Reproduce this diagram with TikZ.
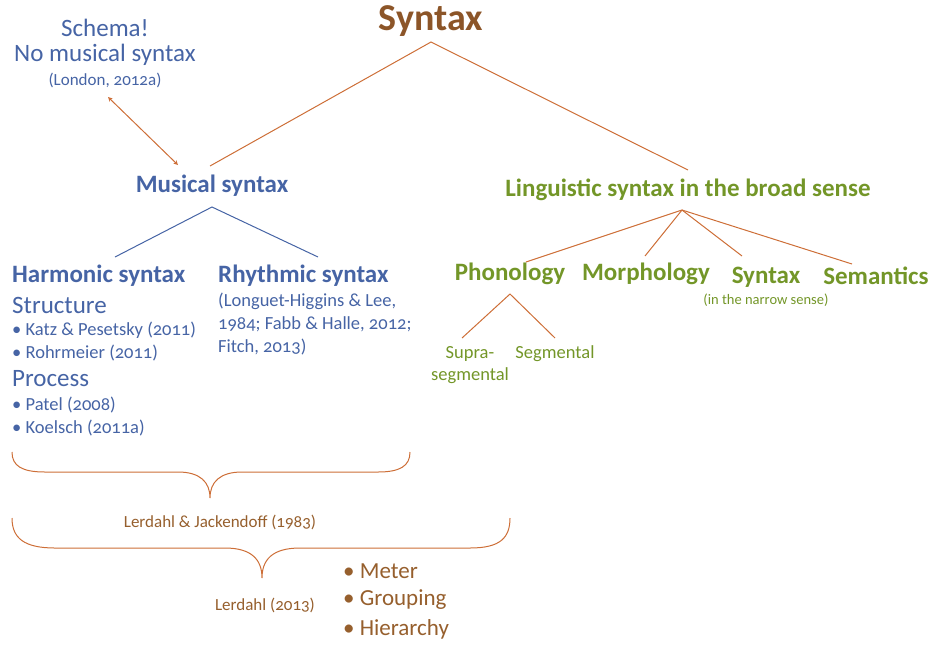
\documentclass[tikz,border=0pt]{standalone}
\usepackage{fontspec}
\setmainfont{Carlito}[Numbers=OldStyle]
\definecolor{ttl}{RGB}{140,85,40}
\definecolor{blu}{RGB}{70,100,165}
\definecolor{grn}{RGB}{115,150,40}
\definecolor{ln}{RGB}{205,110,55}
\definecolor{brn}{RGB}{150,95,45}
\begin{document}
\begin{tikzpicture}[x=1pt,y=-1pt,
  lk/.style={draw=ln,line width=1pt},
  bl/.style={text=blu,inner sep=0pt},
  gr/.style={text=grn,inner sep=0pt},
  br/.style={text=brn,inner sep=0pt},
  f20/.style={font=\fontsize{25}{27}\selectfont},
  b20/.style={font=\bfseries\fontsize{25}{27}\selectfont},
  f15/.style={font=\fontsize{18.5}{21}\selectfont},
  f14/.style={font=\fontsize{17}{19}\selectfont}]
\useasboundingbox (0,0) rectangle (941,651);
\node[br,font=\bfseries\fontsize{38}{40}\selectfont,text=ttl] (syn) at (431,21) {Syntax};
\node[bl,f20] (sch) at (105,28) {Schema!};
\node[bl,f20] (nms) at (105,55) {No musical syntax};
\node[bl,f14] (lon) at (105,80) {(London, 2012a)};
\node[bl,b20] (mus) at (212,186) {Musical syntax};
\node[gr,b20] (lin) at (688,190) {Linguistic syntax in the broad sense};
\coordinate (a0) at (431,42);
\coordinate (a1) at (210,166);
\coordinate (a2) at (688,170);
\draw[lk] (a1) -- (a0) -- (a2);
\coordinate (d1) at (108,97); \coordinate (d2) at (178,165);
\draw[lk,<->,>=stealth] (d1) -- (d2);
\coordinate (m0) at (212,207); \coordinate (m1) at (115,257); \coordinate (m2) at (318,257);
\draw[draw=blu,line width=1pt] (m1) -- (m0) -- (m2);
\node[bl,anchor=west,b20] (har) at (12,276) {Harmonic syntax};
\node[bl,anchor=west,f20] (str) at (12,305) {Structure};
\node[bl,anchor=west,f15] (k1) at (12,330) {• Katz \& Pesetsky (2011)};
\node[bl,anchor=west,f15] (k2) at (12,353) {• Rohrmeier (2011)};
\node[bl,anchor=west,f20] (pro) at (12,379) {Process};
\node[bl,anchor=west,f15] (k3) at (12,405) {• Patel (2008)};
\node[bl,anchor=west,f15] (k4) at (12,428) {• Koelsch (2011a)};
\node[bl,anchor=west,b20] (rhy) at (218,276) {Rhythmic syntax};
\node[bl,anchor=north west,align=left,font=\fontsize{18.5}{23}\selectfont] (rr) at (218,293) {(Longuet-Higgins \& Lee,\\1984; Fabb \& Halle, 2012;\\Fitch, 2013)};
\coordinate (l0) at (682,210);
\foreach \p in {{(526,262)},{(645,256)},{(742,256)},{(852,264)}}{\draw[lk] (l0) -- \p;}
\node[gr,b20] (pho) at (510,274) {Phonology};
\node[gr,b20] (mor) at (646,274) {Morphology};
\node[gr,b20] (sx) at (766,277) {Syntax};
\node[gr,b20] (sem) at (876,276) {Semantics};
\node[gr,font=\fontsize{14.5}{16}\selectfont] (nar) at (766,300) {(in the narrow sense)};
\coordinate (q0) at (510,294); \coordinate (q1) at (462,338); \coordinate (q2) at (555,338);
\draw[lk] (q1) -- (q0) -- (q2);
\node[gr,align=center,font=\fontsize{18.5}{22}\selectfont] (sup) at (470,365) {Supra-\\segmental};
\node[gr,f15] (seg) at (555,354) {Segmental};
\draw[lk] (12,452) .. controls (12,466) and (22,472) .. (45,472) -- (178,472) .. controls (200,472) and (210,482) .. (210,498)
  .. controls (210,482) and (220,472) .. (242,472) -- (378,472) .. controls (400,472) and (410,466) .. (410,452);
\node[br,f14] (lj) at (220,522) {Lerdahl \& Jackendoff (1983)};
\draw[lk] (12,518) .. controls (12,538) and (24,548) .. (55,548) -- (225,548) .. controls (252,548) and (262,560) .. (262,578)
  .. controls (262,560) and (272,548) .. (300,548) -- (470,548) .. controls (500,548) and (510,538) .. (510,518);
\node[br,f14] (l13) at (265,605) {Lerdahl (2013)};
\node[br,anchor=west,font=\fontsize{23}{25}\selectfont] (b1) at (343,571) {• Meter};
\node[br,anchor=west,font=\fontsize{23}{25}\selectfont] (b2) at (343,600) {• Grouping};
\node[br,anchor=west,font=\fontsize{23}{25}\selectfont] (b3) at (343,629) {• Hierarchy};
\end{tikzpicture}
\end{document}
